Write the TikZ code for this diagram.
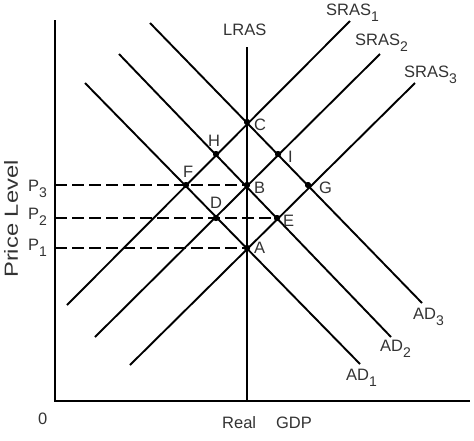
\documentclass[tikz,border=0pt]{standalone}
\usepackage{fontspec}
\setmainfont{Liberation Sans}
\usepackage{graphicx}
\usetikzlibrary{positioning}

\newcommand{\lowidx}[1]{\raisebox{-6pt}{\fontsize{14}{14}\selectfont #1}}

\begin{document}
\begin{tikzpicture}[x=1pt, y=-1pt,
    curve/.style={line width=1.9pt},
    axis/.style={line width=2.4pt},
    guide/.style={line width=1.9pt, dash pattern=on 12pt off 5pt},
    eq/.style={circle, fill=black, inner sep=0pt, minimum size=6pt},
    txt/.style={font=\fontsize{16.5}{16.5}\selectfont, text=black!80, inner sep=0pt, anchor=base west}
]
    \useasboundingbox (0,0) rectangle (474,440);

    \coordinate (ytop) at (55,20);
    \coordinate (O) at (55,401);
    \coordinate (xend) at (470,401);
    \coordinate (ltop) at (247,47);
    \coordinate (lbot) at (247,401);
    \coordinate (p1) at (55,248);
    \coordinate (p2) at (55,218);
    \coordinate (p3) at (55,185);

    \node[eq] (A) at (247,248) {};
    \node[eq] (B) at (247,185) {};
    \node[eq] (C) at (247,122) {};
    \node[eq] (D) at (216,218) {};
    \node[eq] (E) at (277,218) {};
    \node[eq] (F) at (186,185) {};
    \node[eq] (G) at (308,185) {};
    \node[eq] (H) at (216,154) {};
    \node[eq] (I) at (278,154) {};

    \coordinate (s1a) at (67,305);  \coordinate (s1b) at (350,21);
    \coordinate (s2a) at (95,337);  \coordinate (s2b) at (380,54);
    \coordinate (s3a) at (130,365); \coordinate (s3b) at (415,83);
    \coordinate (d1a) at (85,83);   \coordinate (d1b) at (360,364);
    \coordinate (d2a) at (119,54);  \coordinate (d2b) at (391,337);
    \coordinate (d3a) at (150,23);  \coordinate (d3b) at (422,303);

    \draw[guide] (p3) -- (B);
    \draw[guide] (p2) -- (E);
    \draw[guide] (p1) -- (A);

    \draw[curve] (s1a) -- (s1b);
    \draw[curve] (s2a) -- (s2b);
    \draw[curve] (s3a) -- (s3b);
    \draw[curve] (d1a) -- (d1b);
    \draw[curve] (d2a) -- (d2b);
    \draw[curve] (d3a) -- (d3b);
    \draw[curve] (ltop) -- (lbot);
    \draw[axis] (ytop) -- (O) -- (xend);

    \foreach \p in {A,B,C,D,E,F,G,H,I}
        \node[eq] at (\p) {};

    \node[txt] (tA) at (254,253) {A};
    \node[txt] (tB) at (254,193) {B};
    \node[txt] (tC) at (254,130) {C};
    \node[txt] (tD) at (210,208) {D};
    \node[txt] (tE) at (283,226) {E};
    \node[txt] (tF) at (183,177) {F};
    \node[txt] (tG) at (319,193) {G};
    \node[txt] (tH) at (208,146) {H};
    \node[txt] (tI) at (288,162) {I};

    \node[txt] (lras) at (223,35) {LRAS};
    \node[txt] (sras1) at (326,15) {SRAS\lowidx{1}};
    \node[txt] (sras2) at (355,45) {SRAS\lowidx{2}};
    \node[txt] (sras3) at (404,77) {SRAS\lowidx{3}};
    \node[txt] (ad1) at (346,380) {AD\lowidx{1}};
    \node[txt] (ad2) at (380,351) {AD\lowidx{2}};
    \node[txt] (ad3) at (413,319) {AD\lowidx{3}};

    \node[txt] (lp1) at (28,250) {P\lowidx{1}};
    \node[txt] (lp2) at (28,219) {P\lowidx{2}};
    \node[txt] (lp3) at (28,191) {P\lowidx{3}};
    \node[txt] (zero) at (38,424) {0};
    \node[txt] (xlab) at (222,428) {Real\hspace{20pt}GDP};
    \node[rotate=90, inner sep=0pt, text=black!80] (ylab) at (11,219)
        {\scalebox{1.25}[1]{\fontsize{19}{19}\selectfont Price Level}};
\end{tikzpicture}
\end{document}
